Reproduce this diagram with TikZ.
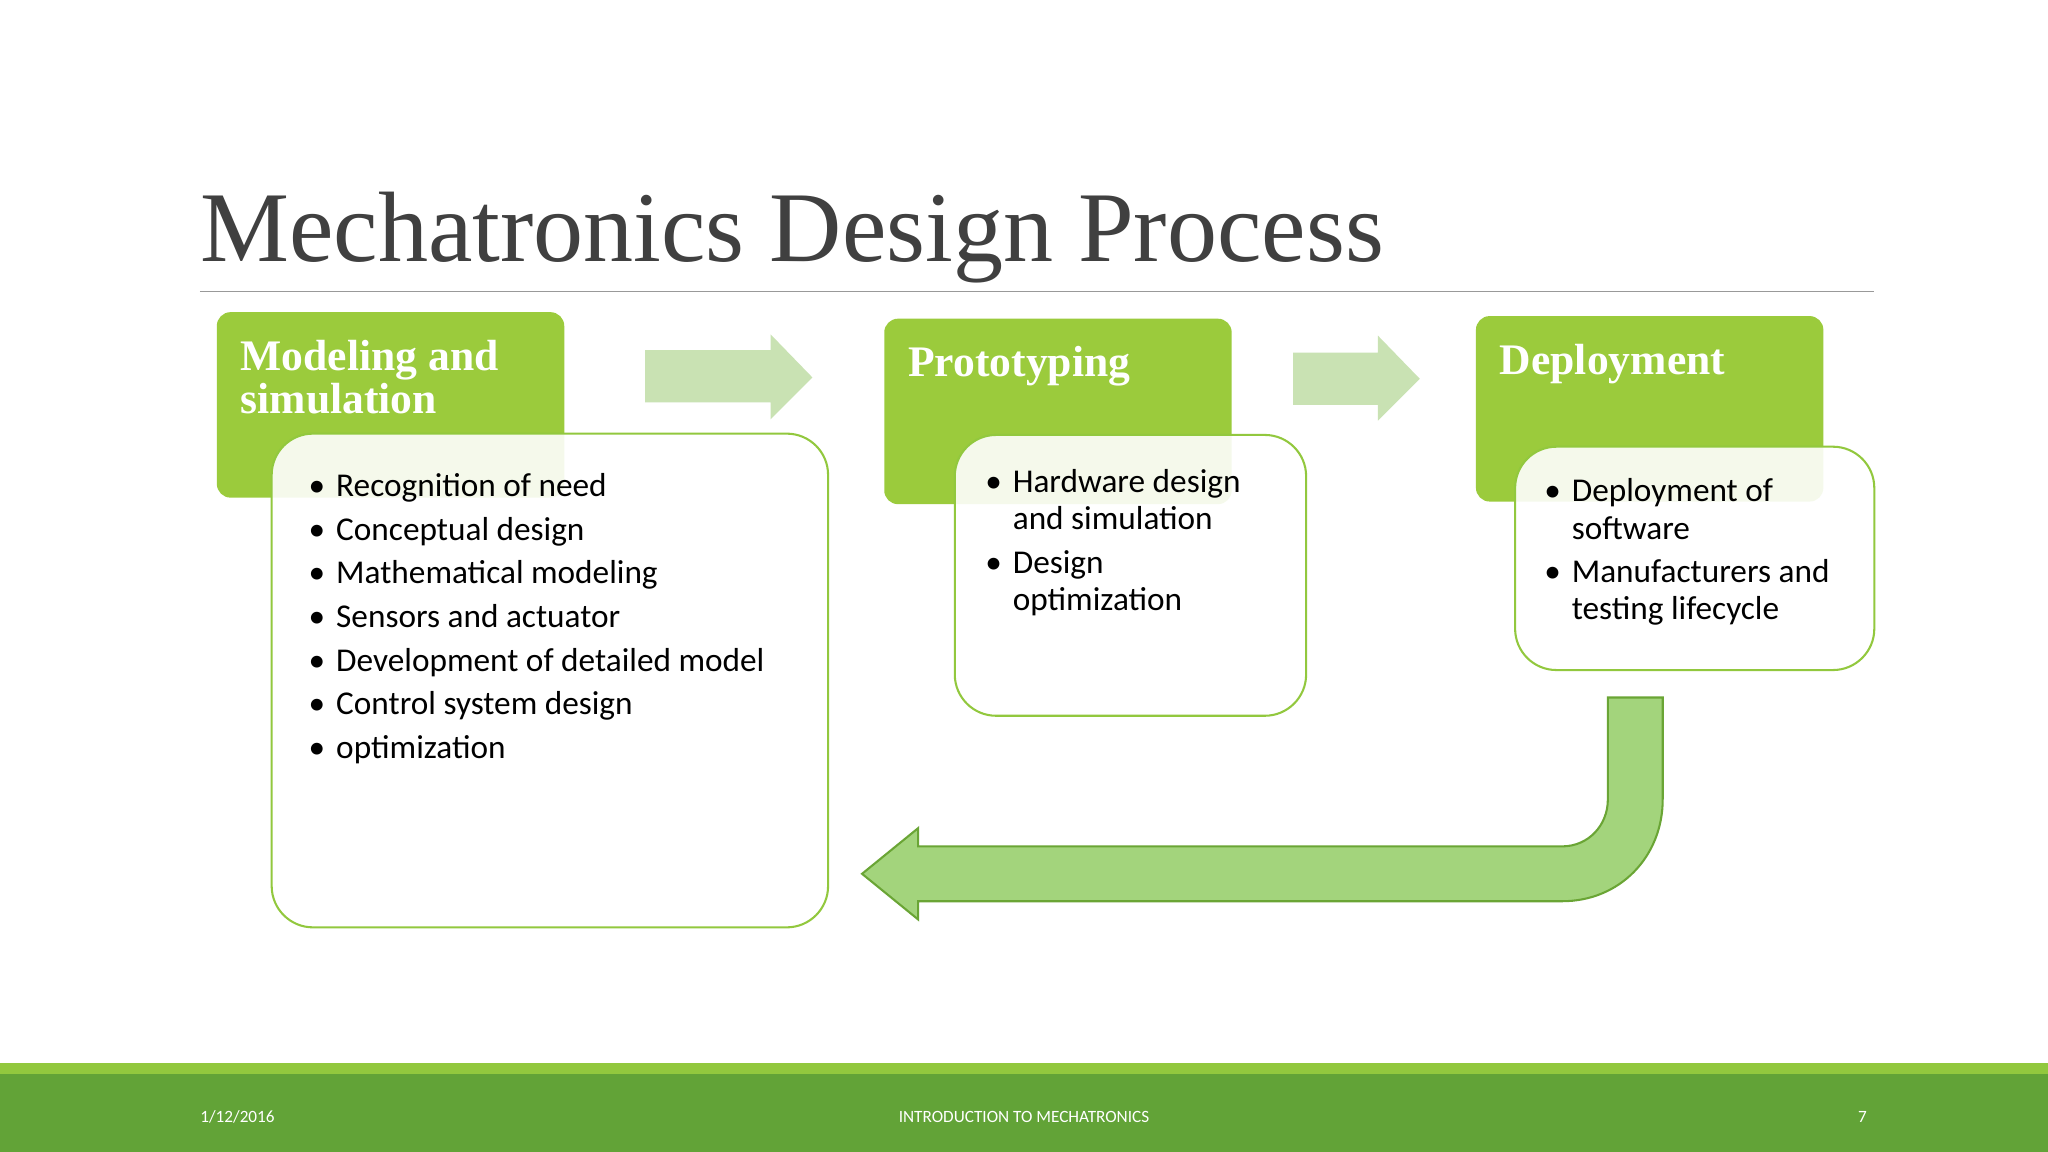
\documentclass[tikz,border=0pt]{standalone}
\usepackage{fontspec}
\setmainfont{Carlito}
\newfontfamily\serifb{Liberation Serif}
\definecolor{gbox}{HTML}{9BCB3C}
\definecolor{gline}{HTML}{92C83E}
\definecolor{larrow}{HTML}{C9E2B3}
\definecolor{barrow}{HTML}{A3D47C}
\definecolor{barrowd}{HTML}{6AA535}
\definecolor{footd}{HTML}{62A337}
\definecolor{titleg}{HTML}{404040}
\begin{document}
\begin{tikzpicture}[x=0.02cm,y=-0.02cm,
  head/.style={fill=gbox,rounded corners=6pt,draw=none},
  body/.style={fill=white,fill opacity=0.9,draw=gline,line width=0.9pt,rounded corners=18pt},
  htext/.style={anchor=north west,inner sep=0,text=white,font=\serifb\fontsize{19}{19}\selectfont\bfseries,align=left},
  btext/.style={anchor=north west,inner sep=0,font=\fontsize{14.5}{16.2}\selectfont,text=black},
  foot/.style={text=white,font=\fontsize{7.5}{9}\selectfont}]
\useasboundingbox (0,0) rectangle (1568,882);
\fill[white] (0,0) rectangle (1568,882);
\node[anchor=base west,inner sep=0,text=titleg,font=\serifb\fontsize{43.6}{50}\selectfont] (title) at (153,200) {Mechatronics Design Process};
\draw[gray!80,line width=0.6pt] (153,223) coordinate (l1) -- (1435,223) coordinate (l2);
% box 1
\path[head] (166,239) rectangle (432,381);
\node[htext] (h1) at (184,260) {Modeling and\\simulation};
\path[body] (208,332) rectangle (634,710);
\newcommand\bl{\makebox[12pt][l]{\textbullet}}
\node[btext] (b1) at (236,360) {\begin{tabular}{@{}l@{}l@{}}
\bl&Recognition of need\\[2.8pt]
\bl&Conceptual design\\[2.8pt]
\bl&Mathematical modeling\\[2.8pt]
\bl&Sensors and actuator\\[2.8pt]
\bl&Development of detailed model\\[2.8pt]
\bl&Control system design\\[2.8pt]
\bl&optimization
\end{tabular}};
% arrow 1
\fill[larrow] (494,268) -- (590,268) -- (590,256) -- (622,289) -- (590,321) -- (590,308) -- (494,308) -- cycle;
% box 2
\path[head] (677,244) rectangle (943,386);
\node[htext] (h2) at (695,265) {Prototyping};
\path[body] (731,333) rectangle (1000,548);
\node[btext] (b2) at (754,357) {\begin{tabular}{@{}l@{}l@{}}
\bl&Hardware design\\
&and simulation\\[2.8pt]
\bl&Design\\
&optimization
\end{tabular}};
% arrow 2
\fill[larrow] (990,270) -- (1055,270) -- (1055,257) -- (1087,290) -- (1055,322) -- (1055,310) -- (990,310) -- cycle;
% box 3
\path[head] (1130,242) rectangle (1396,384);
\node[htext] (h3) at (1148,263) {Deployment};
\path[body] (1160,342) rectangle (1435,513);
\node[btext] (b3) at (1182,364) {\begin{tabular}{@{}l@{}l@{}}
\bl&Deployment of\\
&software\\[2.8pt]
\bl&Manufacturers and\\
&testing lifecycle
\end{tabular}};
% big return arrow
\draw[fill=barrow,draw=barrowd,line width=0.9pt,line join=miter]
 (1231,534) -- (1273,534) -- (1273,612) .. controls (1273,656) and (1240,690) .. (1196,690)
 -- (703,690) -- (703,704) -- (660,669) -- (703,634) -- (703,648) -- (1196,648)
 .. controls (1216,648) and (1231,632) .. (1231,612) -- cycle;
% footer
\fill[gline] (0,814) rectangle (1568,822);
\fill[footd] (0,822) rectangle (1568,882);
\node[foot,anchor=west,inner sep=0] (f1) at (153,855) {1/12/2016};
\node[foot] (f2) at (784,855) {INTRODUCTION TO MECHATRONICS};
\node[foot] (f3) at (1426,855) {7};
\end{tikzpicture}
\end{document}
